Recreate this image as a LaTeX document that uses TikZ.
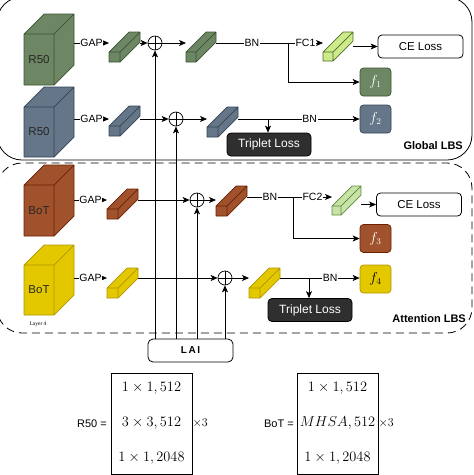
\documentclass[tikz,border=0pt]{standalone}
\usepackage{fontspec}
\setmainfont{Liberation Sans}
\newfontfamily\serifsmall{Liberation Serif}
\usetikzlibrary{arrows.meta,calc}
\definecolor{gfill}{HTML}{6D8764}\definecolor{gline}{HTML}{3A5431}
\definecolor{bfill}{HTML}{647687}\definecolor{bline}{HTML}{314354}
\definecolor{rfill}{HTML}{A0522D}\definecolor{rline}{HTML}{6D1F00}
\definecolor{yfill}{HTML}{E3C800}\definecolor{yline}{HTML}{B09500}
\definecolor{fcafill}{HTML}{CDEB8B}\definecolor{fcaline}{HTML}{4D6B27}
\definecolor{fcbfill}{HTML}{C8E3A8}\definecolor{fcbline}{HTML}{5D8A3A}
\definecolor{tlfill}{HTML}{2F2F2F}
\newcommand\mycuboid[8]{%
  \filldraw[fill=#7, draw=#8, line width=0.7pt, line join=round]
    (#2,#3) rectangle ++(#4,#5)
    (#2,#3) -- ++(#6,-#6) -- ++(#4,0) -- ++(-#6,#6) -- cycle
    ({#2+#4},#3) -- ++(#6,-#6) -- ++(0,#5) -- ++(-#6,#6) -- cycle;
  \node[inner sep=0pt, outer sep=0pt, minimum width={(#4+#6)*1pt}, minimum height={(#5+#6)*1pt}] (#1) at ({#2+(#4+#6)/2},{#3+(#5-#6)/2}) {};
}
\begin{document}
\begin{tikzpicture}[x=1pt,y=-1pt,
  every node/.style={font=\fontsize{10.5}{12}\selectfont},
  arr/.style={-{Stealth[length=7pt,width=6pt,inset=1.8pt]}, line width=0.7pt},
  ln/.style={line width=0.7pt},
  lbl/.style={fill=white, inner sep=0.6pt, font=\fontsize{10.5}{12}\selectfont},
  cubelbl/.style={text=black!85, font=\fontsize{11.5}{13}\selectfont},
  fbox/.style={draw, rounded corners=3.5pt, minimum width=31pt, minimum height=28pt, inner sep=0pt, line width=0.7pt, font=\fontsize{13.5}{14}\selectfont},
  losswhite/.style={draw, fill=white, rounded corners=4pt, minimum width=85pt, minimum height=23pt, inner sep=0pt, line width=0.8pt, font=\fontsize{11.5}{13}\selectfont},
  lossdark/.style={draw=black, fill=tlfill, text=white, rounded corners=4pt, minimum width=84pt, minimum height=23pt, inner sep=0pt, line width=0.8pt, font=\fontsize{12}{13}\selectfont},
  plus/.style={draw, circle, minimum size=14pt, inner sep=0pt, line width=0.7pt,
    path picture={\draw[line width=0.7pt] (path picture bounding box.north) -- (path picture bounding box.south) (path picture bounding box.west) -- (path picture bounding box.east);}},
  lbs/.style={font=\bfseries\fontsize{11}{12}\selectfont, anchor=east, inner sep=0pt},
  matbox/.style={draw, line width=0.9pt, minimum width=81pt, minimum height=101pt, inner sep=0pt},
  mathrow/.style={font=\fontsize{13.5}{15}\selectfont, inner sep=0pt}
]
\useasboundingbox (0,0) rectangle (474,475);
\clip (0,0) rectangle (474,475);
% group boxes
\draw[line width=0.8pt, rounded corners=25pt] (-3,-3) rectangle (472,160);
\draw[line width=0.8pt, dash pattern=on 8pt off 5pt, rounded corners=25pt] (-3,163) rectangle (472,333);
% cubes
\mycuboid{cG}{24}{34}{30}{51}{20}{gfill}{gline}
\mycuboid{cB}{24}{107}{30}{50}{20}{bfill}{bline}
\mycuboid{cR}{24}{185}{30}{51}{20}{rfill}{rline}
\mycuboid{cY}{24}{265}{30}{50}{20}{yfill}{yline}
\node[cubelbl] (tG) at (39,59.5) {R50};
\node[cubelbl] (tB) at (39,132) {R50};
\node[cubelbl] (tR) at (39,210.5) {BoT};
\node[cubelbl] (tY) at (39,290) {BoT};
\node[font=\serifsmall\fontsize{5.5}{6}\selectfont, inner sep=0pt] (layer) at (38,324) {Layer 4};
% bars
\mycuboid{bG1}{109}{52}{11}{10}{20}{gfill}{gline}
\mycuboid{bB1}{109}{126}{11}{10}{20}{bfill}{bline}
\mycuboid{bR1}{107}{209}{11}{10}{20}{rfill}{rline}
\mycuboid{bY1}{107}{288}{11}{10}{20}{yfill}{yline}
\mycuboid{bG2}{186}{52}{10}{10}{20}{gfill}{gline}
\mycuboid{bB2}{207}{127}{11}{10}{20}{bfill}{bline}
\mycuboid{bR2}{216}{206}{11}{10}{20}{rfill}{rline}
\mycuboid{bY2}{249}{288}{11}{10}{20}{yfill}{yline}
\mycuboid{fc1}{323}{52}{10}{9}{20}{fcafill}{fcaline}
\mycuboid{fc2}{332}{206}{9}{9}{20}{fcbfill}{fcbline}
% plus nodes
\node[plus] (pG) at (155,43) {};
\node[plus] (pB) at (176,119) {};
\node[plus] (pR) at (197,200) {};
\node[plus] (pY) at (225,278) {};
% output boxes
\node[losswhite] (ce1) at (420.5,46.5) {CE Loss};
\node[losswhite] (ce2) at (419,204.5) {CE Loss};
\node[fbox, fill=gfill, draw=gline, text=white] (f1) at (375.5,82) {$f_1$};
\node[fbox, fill=bfill, draw=bline, text=white] (f2) at (375.5,119) {$f_2$};
\node[fbox, fill=rfill, draw=rline, text=white] (f3) at (375.5,238.5) {$f_3$};
\node[fbox, fill=yfill, draw=yline, text=black] (f4) at (375.5,279) {$f_4$};
\node[lossdark] (tl1) at (269,144.5) {Triplet Loss};
\node[lossdark] (tl2) at (310,310) {Triplet Loss};
\node[draw, fill=white, rounded corners=5pt, minimum width=85pt, minimum height=23pt, inner sep=0pt, line width=0.8pt, font=\bfseries\fontsize{10}{12}\selectfont] (lai) at (190.5,350.5) {L\hspace{1.5pt}A\hspace{1.5pt}I};
\node[lbs] (glbs) at (463,146) {Global LBS};
\node[lbs] (albs) at (466,319) {Attention LBS};
% junction coordinates
\coordinate (J1) at (288,43);
\coordinate (J2) at (268,119);
\coordinate (J3) at (293,197);
\coordinate (J4) at (309,278);
% LAI lines
\draw[arr] (lai.north -| pG) -- (pG.south);
\draw[arr] (lai.north -| pB) -- (pB.south);
\draw[arr] (lai.north -| pR) -- (pR.south);
\draw[arr] (lai.north -| pY) -- (pY.south);
% green row
\draw[arr] (cG.east |- pG) -- node[lbl]{GAP} (bG1.west |- pG);
\draw[arr] (bG1.east |- pG) -- (pG.west);
\draw[arr] (pG.east) -- (bG2.west |- pG);
\draw[ln] (bG2.east |- pG) -- node[lbl]{BN} (J1);
\draw[arr] (J1) -- node[lbl]{FC1} (fc1.west |- J1);
\draw[arr] (fc1.east |- ce1) -- (ce1.west);
\draw[arr] (J1) |- (f1.west);
% blue row
\draw[arr] (cB.east |- pB) -- node[lbl]{GAP} (bB1.west |- pB);
\draw[arr] (bB1.east |- pB) -- (pB.west);
\draw[arr] (pB.east) -- (bB2.west |- pB);
\draw[arr] (bB2.east |- pB) -- node[lbl,pos=0.59]{BN} (f2.west);
\draw[arr] (J2) -- (J2 |- tl1.north);
% brown row
\draw[arr] (cR.east |- pR) -- node[lbl]{GAP} (bR1.west |- pR);
\draw[arr] (bR1.east |- pR) -- (pR.west);
\draw[arr] (pR.east) -- (bR2.west |- pR);
\draw[ln] (bR2.east |- J3) -- node[lbl]{BN} (J3);
\draw[arr] (J3) -- node[lbl]{FC2} (fc2.west |- J3);
\draw[arr] (fc2.east |- ce2) -- (ce2.west);
\draw[arr] (J3) |- (f3.west);
% yellow row
\draw[arr] (cY.east |- pY) -- node[lbl]{GAP} (bY1.west |- pY);
\draw[arr] (bY1.east |- pY) -- (pY.west);
\draw[arr] (pY.east) -- (bY2.west |- pY);
\draw[arr] (bY2.east |- pY) -- node[lbl,pos=0.63]{BN} (f4.west |- pY);
\draw[arr] (J4) -- (J4 |- tl2.north);
% formulas
\node[matbox] (m1) at (151.5,423.5) {};
\node[matbox] (m2) at (337.5,423.5) {};
\node[anchor=east, inner sep=0pt, font=\fontsize{11}{12}\selectfont] (r50eq) at (107,423.5) {R50 =};
\node[anchor=east, inner sep=0pt, font=\fontsize{11}{12}\selectfont] (boteq) at (294,423.5) {BoT =};
\node[mathrow] (a1) at (151.5,388) {$1\times 1, 512$};
\node[mathrow] (a2) at (151.5,423) {$3\times 3, 512$};
\node[mathrow] (a3) at (151.5,458) {$1\times 1, 2048$};
\node[mathrow] (b1) at (337.5,388) {$1\times 1, 512$};
\node[mathrow] (b2) at (337.5,423) {$MHSA, 512$};
\node[mathrow] (b3) at (337.5,458) {$1\times 1, 2048$};
\node[mathrow, anchor=west, font=\fontsize{12.5}{14}\selectfont] (x1) at (m1.east |- a2) {$\times 3$};
\node[mathrow, anchor=west, font=\fontsize{12.5}{14}\selectfont] (x2) at (m2.east |- b2) {$\times 3$};
\end{tikzpicture}
\end{document}
